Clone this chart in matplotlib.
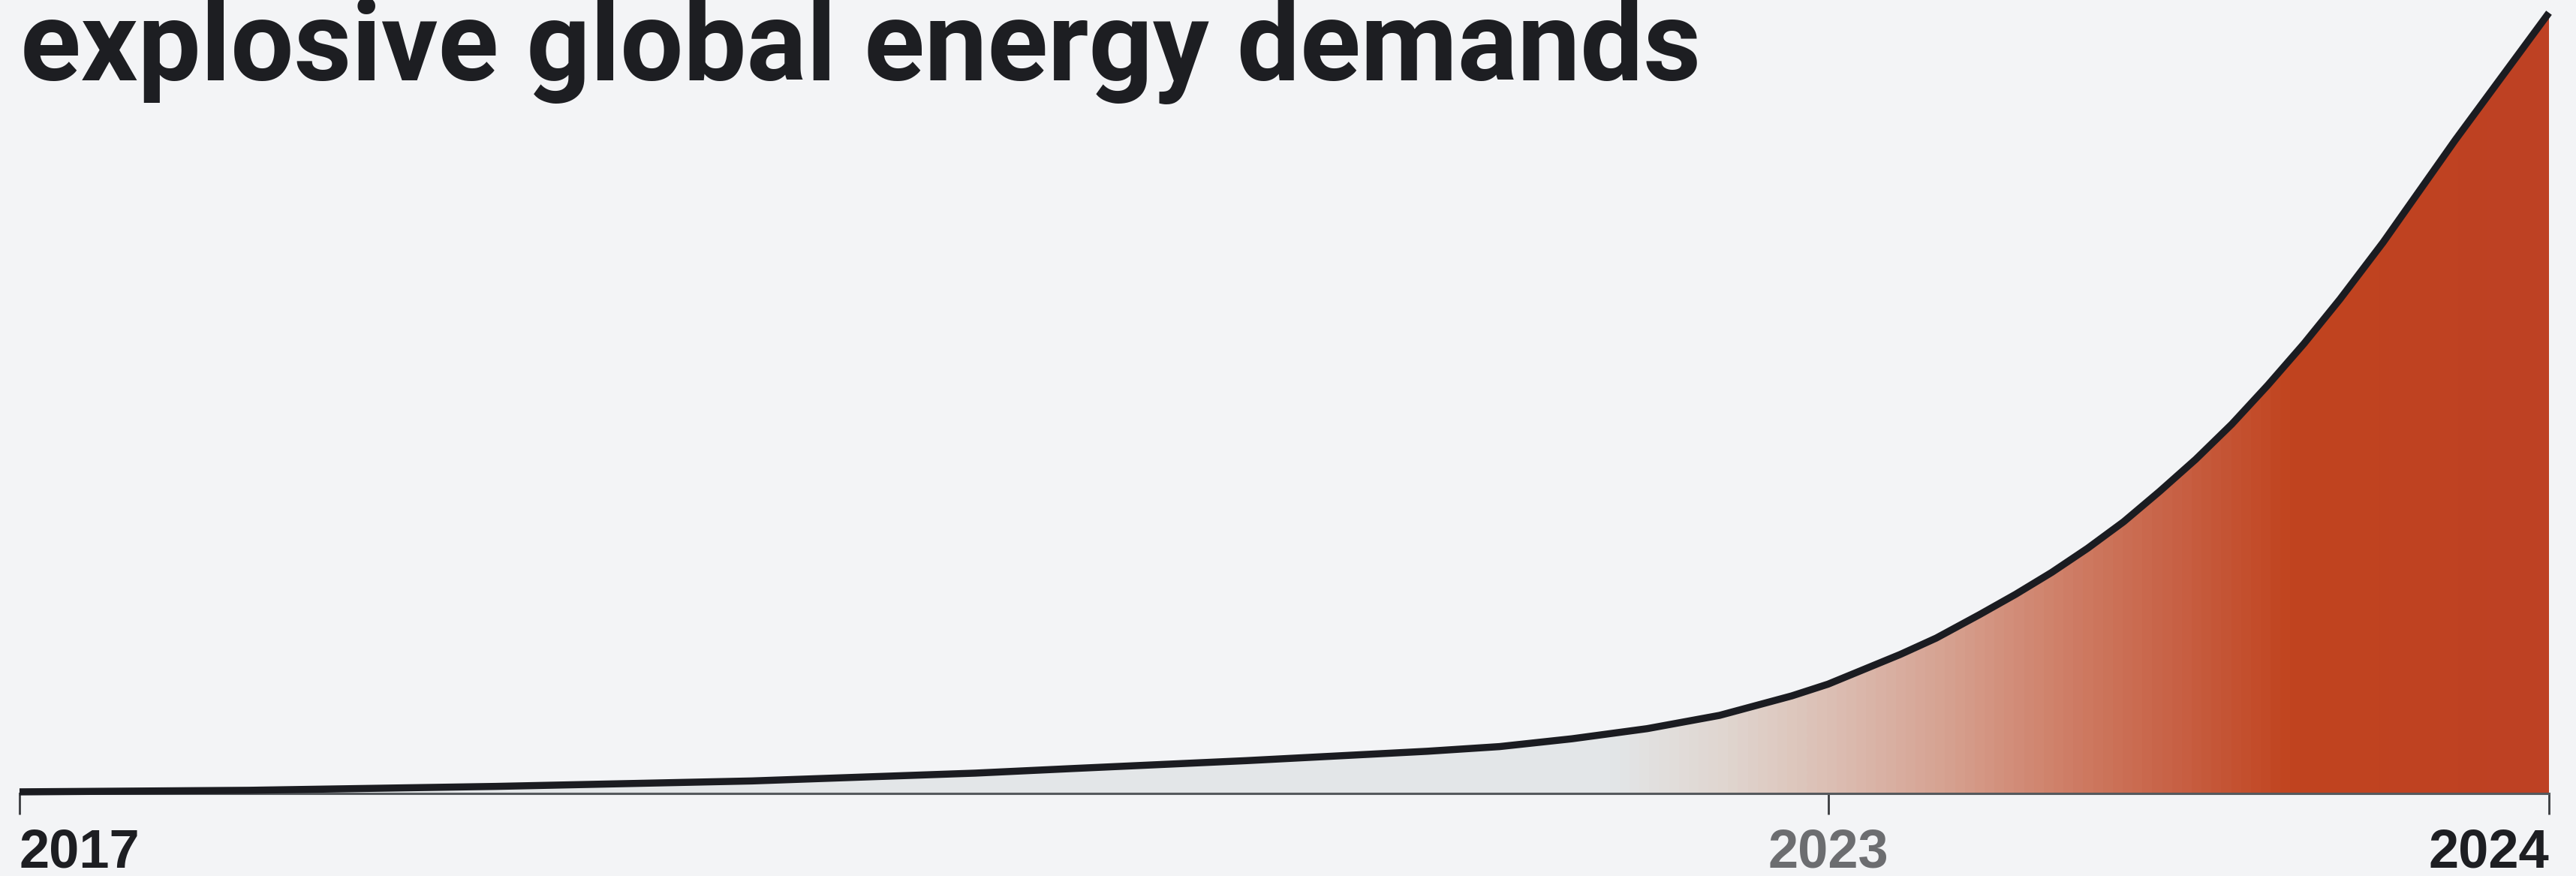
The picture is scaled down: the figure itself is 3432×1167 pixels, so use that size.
import numpy as np
import matplotlib
matplotlib.use("Agg")
import matplotlib.pyplot as plt
from matplotlib.colors import LinearSegmentedColormap

# demand curve: year and relative level (2024 = 100)
years = [2017.0, 2017.76, 2018.58, 2019.43, 2020.17, 2020.5, 2021.07, 2021.67,
         2021.91, 2022.15, 2022.4, 2022.64, 2022.88, 2023.0, 2023.05, 2023.1,
         2023.15, 2023.21, 2023.26, 2023.31, 2023.36, 2023.41, 2023.46, 2023.51,
         2023.56, 2023.61, 2023.66, 2023.71, 2023.77, 2023.87, 2024.0]
demand = [0.2, 0.4, 0.9, 1.6, 2.6, 3.2, 4.2, 5.4,
          6.0, 7.0, 8.3, 10.0, 12.5, 14.0, 15.9, 17.8,
          19.9, 22.9, 25.5, 28.3, 31.4, 34.8, 38.7, 42.8,
          47.3, 52.3, 57.6, 63.3, 70.6, 83.7, 100.0]

tick_years = [2017, 2023, 2024]
tick_labels = ["2017", "2023", "2024"]
title = "explosive global energy demands"

W, H, DPI = 3432, 1167, 200
bg = "#f3f4f6"
ink = "#1d1e22"

# the x axis is stretched: 2017-2023 takes ~71% of the width, the last year the rest
split = 0.715


def fwd(x):
    x = np.asarray(x, float)
    return np.where(x <= 2023, (x - 2017) * (split / 6), split + (x - 2023) * (1 - split))


def inv(p):
    p = np.asarray(p, float)
    return np.where(p <= split, 2017 + p * 6 / split, 2023 + (p - split) / (1 - split))


fig = plt.figure(figsize=(W / DPI, H / DPI), dpi=DPI, facecolor=bg)
ax = fig.add_axes([26 / W, 1 - 1057 / H, 3370 / W, 1040 / H])
ax.set_facecolor("none")
ax.set_xscale("function", functions=(fwd, inv))

# gradient fill under the curve
cmap = LinearSegmentedColormap.from_list("heat", [
    (0.0, "#e3e7e9"), (0.63, "#e3e6e8"), (0.675, "#e0d6d0"), (0.715, "#dcc0b5"),
    (0.764, "#d6a190"), (0.808, "#cf8069"), (0.853, "#c86246"), (0.9, "#c1441f"),
    (1.0, "#be4124")])
grad = np.linspace(0, 1, 600).reshape(1, -1)
im = ax.imshow(grad, extent=[0, 1, 0, 1], transform=ax.transAxes, aspect="auto",
               cmap=cmap, zorder=1, interpolation="bilinear")
fill = ax.fill_between(years, demand, 0, color="none", lw=0)
im.set_clip_path(fill.get_paths()[0], ax.transData)

ax.plot(years, demand, color="#1b1c21", lw=3.4, solid_capstyle="butt",
        solid_joinstyle="round", zorder=3, clip_on=False)

ax.set_xlim(2017, 2024)
ax.set_ylim(0, 100)
ax.set_yticks([])
for s in ["left", "right", "top"]:
    ax.spines[s].set_visible(False)
ax.spines["bottom"].set_color("#55595d")
ax.spines["bottom"].set_linewidth(1.1)

ax.set_xticks(tick_years)
ax.set_xticklabels(tick_labels)
ax.tick_params(axis="x", direction="out", length=10, width=1.0, color="#3a3c40",
               pad=6.5, labelsize=26)
labs = ax.get_xticklabels()
styles = [("left", ink, "bold"), ("center", "#6c6d70", "semibold"), ("right", ink, "bold")]
for lab, (ha, c, wt) in zip(labs, styles):
    lab.set_horizontalalignment(ha)
    lab.set_color(c)
    lab.set_fontweight(wt)
    lab.set_family(["Liberation Sans", "DejaVu Sans"])
ax.xaxis.get_major_ticks()[1].tick1line.set_color("#6a6c70")

t = fig.text(27 / W, 1 - 107 / H, title, ha="left", va="baseline", fontsize=48,
             fontweight="bold", family=["Roboto", "DejaVu Sans"], color=ink)
fig.canvas.draw()
w = t.get_window_extent().width
t.set_fontsize(48 * 2240 / w)

fig.savefig("out.png", dpi=DPI, facecolor=bg)
